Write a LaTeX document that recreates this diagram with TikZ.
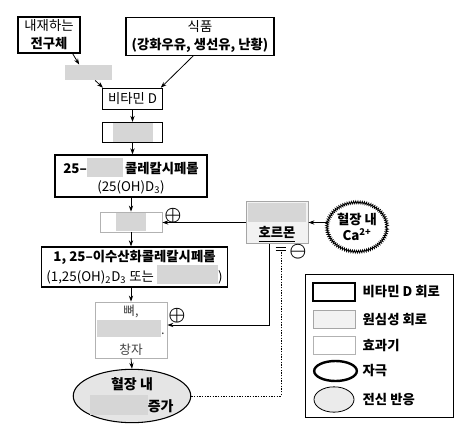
\documentclass[tikz,border=0pt]{standalone}
\usepackage{fontspec}
\setmainfont{Noto Sans CJK KR}
\usetikzlibrary{positioning,arrows.meta,shapes.geometric,decorations.pathmorphing}

\newcommand{\blur}[1]{{\color{black!16}\rule[-0.4ex]{#1}{2.6ex}}}

\tikzset{
  vitbox/.style={draw, line width=0.9pt, fill=white, align=center, inner sep=1pt},
  effbox/.style={draw=black!30, line width=0.6pt, fill=white, align=center, inner sep=1pt},
  efferbox/.style={draw=black!35, line width=0.6pt, fill=black!5, align=center, inner sep=1pt},
  blurbox/.style={fill=black!16, inner sep=0pt},
  arr/.style={-{Stealth[length=4.5pt,width=3.2pt]}, line width=0.6pt},
  sign/.style={font=\Large\boldmath, inner sep=0pt},
}

\begin{document}
\begin{tikzpicture}[x=0.75pt, y=-0.75pt, font=\fontsize{10}{13.5}\selectfont]
  \useasboundingbox (0,0) rectangle (474,442);

  % Sources
  \node[vitbox, minimum width=46.5pt, minimum height=27pt] (prec) at (49,35) {내재하는\\\textbf{전구체}};
  \node[vitbox, minimum width=111pt, minimum height=28pt] (food) at (200,36.5) {식품\\\textbf{(강화우유, 생선유, 난황)}};
  \node[blurbox, minimum width=35pt, minimum height=11.5pt] (pre) at (88.5,72.5) {};

  % Vitamin D chain
  \node[vitbox, minimum width=45.5pt, minimum height=16pt] (vitd) at (132.5,99) {비타민 D};
  \node[vitbox, minimum width=45.5pt, minimum height=15pt] (liver) at (132.5,132.5) {};
  \node[blurbox, minimum width=30pt, minimum height=14pt] at (liver) {};
  \node[vitbox, minimum width=114pt, minimum height=31.5pt] (calcd) at (131,176)
    {\textbf{25–\blur{27pt}\,콜레칼시페롤}\\(25(OH)D\textsubscript{3})};
  \node[effbox, minimum width=46.5pt, minimum height=15pt] (kidney) at (131,222) {};
  \node[blurbox, minimum width=22pt, minimum height=14pt] at (kidney) {};
  \node[vitbox, minimum width=140pt, minimum height=30pt, font=\fontsize{10}{15}\selectfont] (calct) at (134.5,267)
    {\textbf{1, 25–이수산화콜레칼시페롤}\\(1,25(OH)\textsubscript{2}D\textsubscript{3} 또는 \blur{46pt})};
  \node[effbox, minimum width=54pt, minimum height=42pt, text=black!75, font=\fontsize{9.5}{14.5}\selectfont] (bone) at (131,330)
    {뼈,\\\blur{48pt}.\\창자};
  \node[ellipse, draw, line width=0.8pt, fill=black!10, inner sep=0pt, minimum width=76.5pt, minimum height=40pt,
        align=center, font=\bfseries\fontsize{10.5}{17}\selectfont] (plasma) at (132,396) {혈장 내\\\blur{43pt}증가};

  % Hormone and stimulus
  \node[efferbox, minimum width=46.5pt, minimum height=31pt, font=\bfseries\fontsize{10}{14}\selectfont] (horm) at (277,222.5)
    {\blur{43pt}\\\underline{호르몬}};
  \node[ellipse, draw, line width=0.6pt, decorate, decoration={zigzag, amplitude=1pt, segment length=1.6pt},
        minimum width=45pt, minimum height=37pt, inner sep=0pt, align=center,
        font=\bfseries\fontsize{10}{11.5}\selectfont] (ca) at (357,227) {혈장 내\\Ca\textsuperscript{2+}};

  % Arrows
  \draw[arr] ([xshift=-6pt]prec.south east) -- ([xshift=-7pt]pre.north);
  \draw[arr] ([xshift=5pt]pre.south) -- ([xshift=1pt]vitd.north west);
  \draw[arr] ([xshift=-5pt]food.south) -- ([xshift=-2pt]vitd.north east);
  \draw[arr] (vitd.south) -- (liver.north);
  \draw[arr] (liver.south) -- (liver.south |- calcd.north);
  \draw[arr] (calcd.south) -- (kidney.north);
  \draw[arr] (kidney.south) -- (kidney.south |- calct.north);
  \draw[arr] (calct.south -| bone) -- (bone.north);
  \draw[arr] (bone.south) -- (plasma.north);
  \draw[arr] (horm.east -| ca.west) -- (horm.east);
  \draw[arr] (horm.west) -- (horm.west -| kidney.east);
  \draw[arr] ([xshift=-6pt]horm.south) |- ([yshift=3.75pt]bone.east);

  % Feedback
  \coordinate (inh) at (281,250);
  \draw[line width=0.6pt, dash pattern=on 1pt off 1pt] (plasma.east) -| (inh);
  \draw[line width=0.6pt] ([xshift=-4pt]inh) -- ([xshift=4pt]inh);
  \draw[line width=0.6pt] ([xshift=-4pt,yshift=2pt]inh) -- ([xshift=4pt,yshift=2pt]inh);

  % Signs
  \node[sign] (pl1) at (173,216) {$\oplus$};
  \node[sign] (pl2) at (177,316) {$\oplus$};
  \node[sign] (mi1) at (298,252) {$\ominus$};

  % Legend
  \draw[line width=0.6pt] (305,274) rectangle (453,417);
  \node[vitbox, minimum width=31.5pt, minimum height=13.5pt] (lg1) at (334,292) {};
  \node[efferbox, minimum width=31.5pt, minimum height=13.5pt] (lg2) at (334,319.5) {};
  \node[effbox, minimum width=31.5pt, minimum height=13.5pt] (lg3) at (334,345) {};
  \node[ellipse, draw, line width=1.8pt, minimum width=32pt, minimum height=15pt, inner sep=0pt] (lg4) at (335.5,371) {};
  \node[ellipse, draw, line width=0.6pt, fill=black!8, minimum width=30pt, minimum height=19pt, inner sep=0pt] (lg5) at (334,399.5) {};
  \node[anchor=west, font=\bfseries\fontsize{10}{12}\selectfont] (lt1) at (358,292) {비타민 D 회로};
  \node[anchor=west, font=\bfseries\fontsize{10}{12}\selectfont] (lt2) at (358,319.5) {원심성 회로};
  \node[anchor=west, font=\bfseries\fontsize{10}{12}\selectfont] (lt3) at (358,345) {효과기};
  \node[anchor=west, font=\bfseries\fontsize{10}{12}\selectfont] (lt4) at (358,371) {자극};
  \node[anchor=west, font=\bfseries\fontsize{10}{12}\selectfont] (lt5) at (358,399.5) {전신 반응};
\end{tikzpicture}
\end{document}
